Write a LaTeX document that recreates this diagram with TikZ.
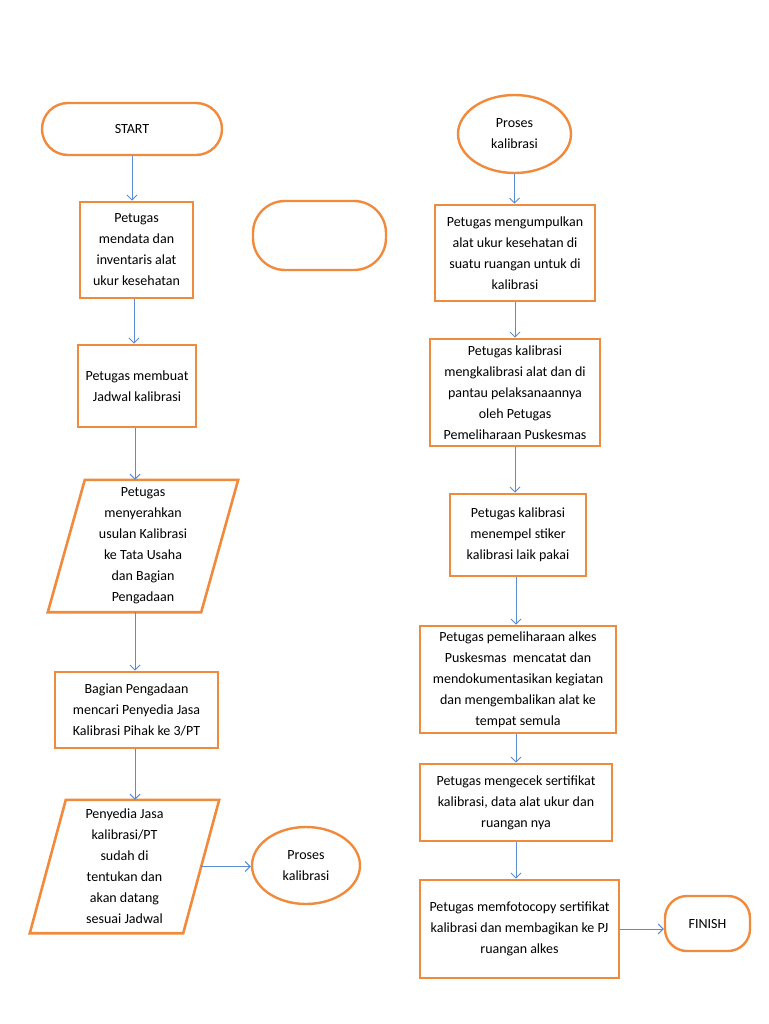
\documentclass[tikz,border=0pt]{standalone}
\usepackage{fontspec}
\setmainfont{Carlito}
\usetikzlibrary{arrows.meta,shapes.geometric,calc}
\definecolor{orng}{HTML}{F08A3C}
\definecolor{arblue}{HTML}{5B8BD0}
\begin{document}
\begin{tikzpicture}[x=1pt,y=-1pt,
  txt/.style={align=center,font=\fontsize{14}{21}\selectfont,inner sep=0pt},
  box/.style={txt,draw=orng,line width=2.6pt,fill=white},
  term/.style={box,line width=2.4pt},
  ell/.style={txt,ellipse,draw=orng,line width=2.4pt,fill=white},
  paranode/.style={txt},
  paraline/.style={draw=orng,line width=2.6pt,line join=miter},
  arr/.style={draw=arblue,line width=1pt,-{Straight Barb[length=5pt,width=10pt]}}
]
\useasboundingbox[fill=white] (0,0) rectangle (768,1024);

% left column
\node[term,rounded corners=26pt,minimum width=180,minimum height=52] (start) at (132,129) {START};
\node[box,minimum width=113,minimum height=96] (b1) at (136.5,250) {Petugas\\mendata dan\\inventaris alat\\ukur kesehatan};
\node[term,rounded corners=32pt,minimum width=133,minimum height=69] (empty) at (319.5,235.5) {};
\node[box,minimum width=118,minimum height=82] (b2) at (137,386) {Petugas membuat\\Jadwal kalibrasi};
\node[paranode,minimum width=153,minimum height=132] (p1) at (143,546) {Petugas\\menyerahkan\\usulan Kalibrasi\\ke Tata Usaha\\dan Bagian\\Pengadaan};
\draw[paraline] ($(p1.north west)+(18.5,0)$) -- ($(p1.north east)+(18.5,0)$) -- ($(p1.south east)+(-18.5,0)$) -- ($(p1.south west)+(-18.5,0)$) -- cycle;
\node[box,minimum width=163,minimum height=76] (b3) at (136.5,710) {Bagian Pengadaan\\mencari Penyedia Jasa\\Kalibrasi Pihak ke 3/PT};
\node[paranode,minimum width=153,minimum height=133] (p2) at (124.5,866.5) {Penyedia Jasa\\kalibrasi/PT\\sudah di\\tentukan dan\\akan datang\\sesuai Jadwal};
\draw[paraline] ($(p2.north west)+(18,0)$) -- ($(p2.north east)+(18,0)$) -- ($(p2.south east)+(-18,0)$) -- ($(p2.south west)+(-18,0)$) -- cycle;
\node[ell,minimum width=108,minimum height=77] (e1) at (306,865.5) {Proses\\kalibrasi};

% right column
\node[ell,minimum width=113,minimum height=78] (e2) at (514.5,134) {Proses\\kalibrasi};
\node[box,minimum width=160,minimum height=96] (r1) at (515,253) {Petugas mengumpulkan\\alat ukur kesehatan di\\suatu ruangan untuk di\\kalibrasi};
\node[box,minimum width=170,minimum height=107] (r2) at (515,392.5) {Petugas kalibrasi\\mengkalibrasi alat dan di\\pantau pelaksanaannya\\oleh Petugas\\Pemeliharaan Puskesmas};
\node[box,minimum width=136,minimum height=82] (r3) at (518,535) {Petugas kalibrasi\\menempel stiker\\kalibrasi laik pakai};
\node[box,minimum width=196,minimum height=107] (r4) at (518,679.5) {Petugas pemeliharaan alkes\\Puskesmas\ \ mencatat dan\\mendokumentasikan kegiatan\\dan mengembalikan alat ke\\tempat semula};
\node[box,minimum width=192,minimum height=77] (r5) at (516,802.5) {Petugas mengecek sertifikat\\kalibrasi, data alat ukur dan\\ruangan nya};
\node[box,minimum width=199,minimum height=98] (r6) at (519.5,929) {Petugas memfotocopy sertifikat\\kalibrasi dan membagikan ke PJ\\ruangan alkes};
\node[term,rounded corners=22pt,minimum width=85,minimum height=55] (fin) at (707.5,923.5) {FINISH};

% arrows left
\draw[arr] (start.south) -- (start.south |- b1.north);
\draw[arr] ([xshift=-2.5pt]b1.south) -- ([xshift=-2.5pt]b1.south |- b2.north);
\draw[arr] ([xshift=-2pt]b2.south) -- ([xshift=-2pt]b2.south |- p1.north);
\draw[arr] ([xshift=-8pt]p1.south) -- ([xshift=-8pt]p1.south |- b3.north);
\draw[arr] ([xshift=-1.5pt]b3.south) -- ([xshift=-1.5pt]b3.south |- p2.north);
\draw[arr] (p2.east) -- (p2.east -| e1.west);

% arrows right
\draw[arr] (e2.south) -- (e2.south |- r1.north);
\draw[arr] (r1.south) -- (r1.south |- r2.north);
\draw[arr] (r2.south) -- (r2.south |- r3.north);
\draw[arr] ([xshift=-2pt]r3.south) -- ([xshift=-2pt]r3.south |- r4.north);
\draw[arr] ([xshift=-2pt]r4.south) -- ([xshift=-2pt]r4.south |- r5.north);
\draw[arr] (r5.south) -- (r5.south |- r6.north);
\draw[arr] (r6.east) -- (r6.east -| fin.west);
\end{tikzpicture}
\end{document}
